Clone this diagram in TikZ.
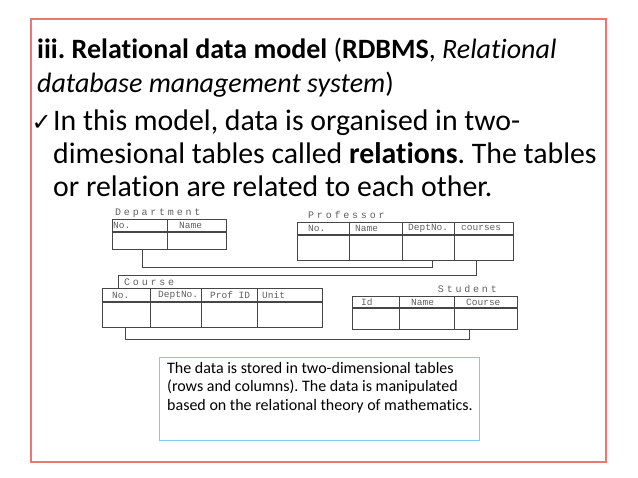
\documentclass[tikz,border=0pt]{standalone}
\usepackage{fontspec}
\setmainfont[Ligatures=NoCommon]{Carlito}
\newfontfamily\tickfont{DejaVu Sans}
\newfontfamily\tabfont{Liberation Mono}
\newfontfamily\tabtitlefont[LetterSpace=28]{Liberation Mono}
\frenchspacing

\definecolor{framered}{RGB}{236,118,118}
\definecolor{boxcyan}{RGB}{125,205,235}
\definecolor{tabline}{RGB}{70,70,70}
\definecolor{tabtext}{RGB}{95,95,95}

% one column of a table: name, x, y, width, header height, body height, text inset, label
\newcommand{\dbcol}[8]{%
  \node[colbox, minimum width=#4pt, minimum height=#5pt] (#1-h) at (#2,#3) {};
  \node[colbox, minimum width=#4pt, minimum height=#6pt] (#1) at (#1-h.south west) {};
  \node[headtext] (#1-t) at ([xshift=#7pt]#1-h.west) {#8};}

\begin{document}
\begin{tikzpicture}[x=1pt,y=-1pt,
    colbox/.style={draw=tabline, line width=0.9pt, anchor=north west, inner sep=0pt},
    headtext/.style={font=\tabfont\fontsize{9.5}{10}\selectfont, text=tabtext, anchor=west, inner sep=0pt},
    tabtitle/.style={font=\tabtitlefont\fontsize{10}{10}\selectfont, text=tabtext, inner sep=0pt},
    link/.style={draw=tabline, line width=0.9pt},
    slidetext/.style={font=\fontsize{29.8}{30}\selectfont, anchor=base west, inner sep=0pt},
    titletext/.style={font=\fontsize{28}{30}\selectfont, anchor=base west, inner sep=0pt},
    notetext/.style={font=\fontsize{16}{18.5}\selectfont, align=left, anchor=north west, inner sep=0pt}]
  \useasboundingbox (0,0) rectangle (638,478);
  \draw[framered, line width=1.5pt] (31,19) rectangle (606,462);

  % slide text
  \node[titletext] (l1) at (37,59) {\textbf{iii. Relational data model} (\textbf{RDBMS}, \textit{Relational}};
  \node[titletext] (l2) at (37,93) {\textit{database management system})};
  \node[slidetext] (l3) at (53,131) {In this model, data is organised in two-};
  \node[slidetext] (l4) at (53,164) {dimesional tables called \textbf{relations}. The tables};
  \node[slidetext] (l5) at (53,197) {or relation are related to each other.};
  \node[font=\tickfont\fontsize{24}{24}\selectfont, anchor=base east, inner sep=0pt] (tick) at ([xshift=-1pt]l3.base west) {✓};

  % tables
  \node[tabtitle, anchor=west] (dept-title) at (115,213) {Department};
  \dbcol{dept-no}{112}{219}{55}{12}{17}{1}{No.}
  \dbcol{dept-name}{167}{219}{59}{12}{17}{12}{Name}

  \node[tabtitle, anchor=west] (prof-title) at (308,215) {Professor};
  \dbcol{prof-no}{297}{222}{52}{12}{25}{11}{No.}
  \dbcol{prof-name}{349}{222}{53}{12}{25}{6}{Name}
  \dbcol{prof-dept}{402}{222}{52}{12}{25}{6}{DeptNo.}
  \dbcol{prof-course}{454}{222}{59}{12}{25}{7}{courses}

  \node[tabtitle, anchor=west] (course-title) at (124,282) {Course};
  \dbcol{course-no}{102}{288}{48}{13}{25}{10}{No.}
  \dbcol{course-dept}{150}{288}{51}{13}{25}{8}{DeptNo.}
  \dbcol{course-prof}{201}{288}{56}{13}{25}{9}{Prof ID}
  \dbcol{course-unit}{257}{288}{65}{13}{25}{5}{Unit}

  \node[tabtitle, anchor=east] (stud-title) at (497,289) {Student};
  \dbcol{stud-id}{352}{296}{47}{11}{21}{9}{Id}
  \dbcol{stud-name}{399}{296}{55}{11}{21}{12}{Name}
  \dbcol{stud-course}{454}{296}{63}{11}{21}{12}{Course}

  % relations between the tables
  \draw[link] ([xshift=2.5pt]dept-no.south) -- ++(0,18) -| ([xshift=4pt]prof-dept.south);
  \draw[link] ([xshift=-7.5pt]prof-course.south) -- ++(0,15) -| ([xshift=16pt]course-no-h.north west);
  \draw[link] ([xshift=-1pt]course-no.south) -- ++(0,12) -| ([xshift=-17pt]stud-course.south);

  % note box
  \node[draw=boxcyan, line width=1.2pt, minimum width=320pt, minimum height=83pt, anchor=north west, inner sep=0pt] (note) at (159,357) {};
  \node[notetext] (note-t) at ([shift={(8,5)}]note.north west) {The data is stored in two-dimensional tables\\(rows and columns). The data is manipulated\\based on the relational theory of mathematics.};
\end{tikzpicture}
\end{document}
